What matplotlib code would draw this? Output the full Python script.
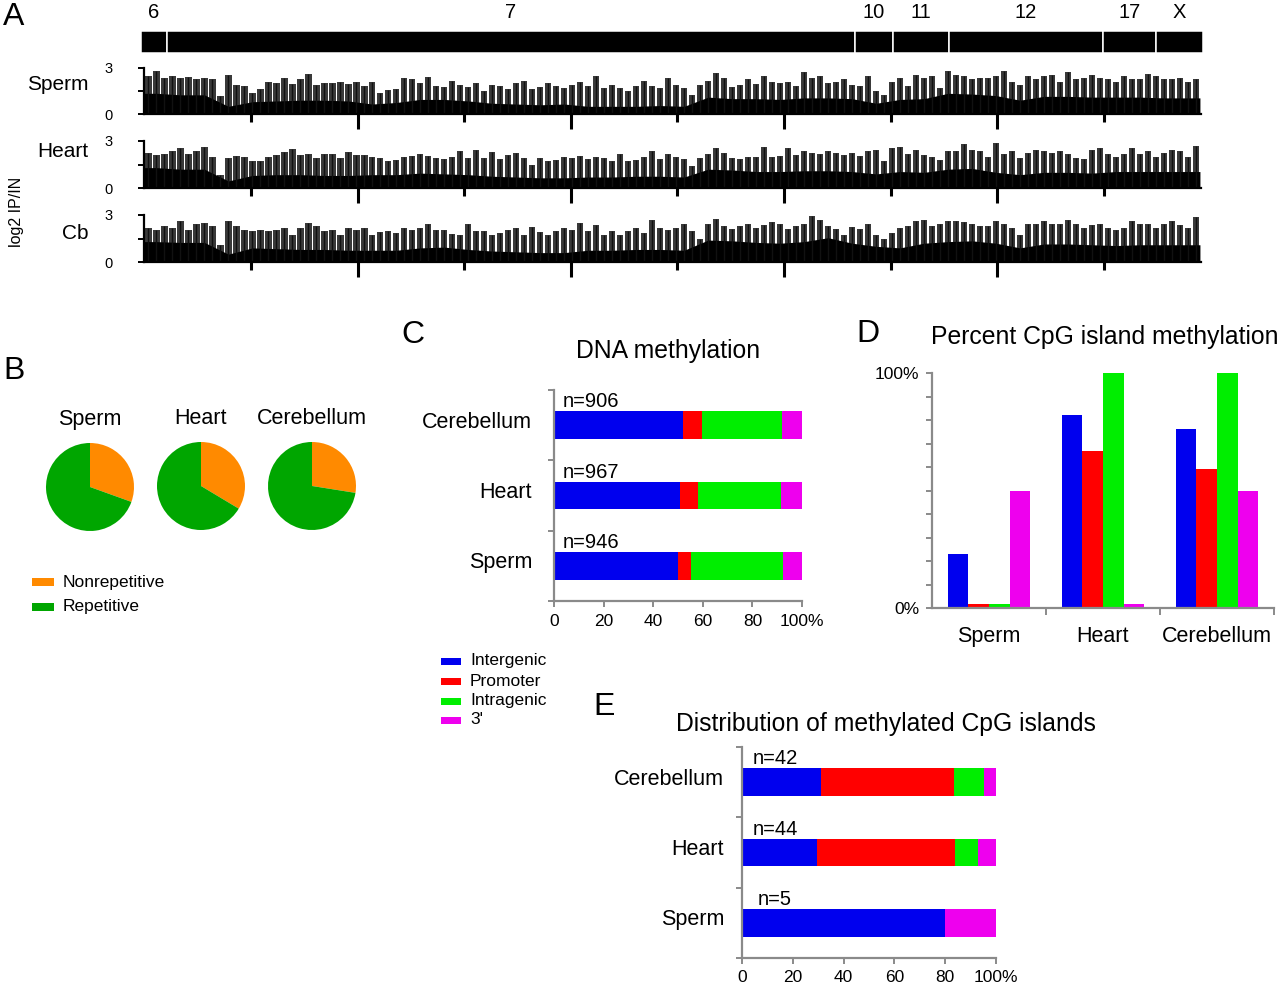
import matplotlib
matplotlib.use('Agg')
import matplotlib.pyplot as plt
import numpy as np
from matplotlib.patches import Rectangle

plt.rcParams['font.family'] = ['Liberation Sans', 'DejaVu Sans']

# ---------------- data ----------------
chrom_names = ['6', '7', '10', '11', '12', '17', 'X']
chrom_edges = [-0.6, 4.2, 133.3, 140.4, 150.9, 179.8, 189.8, 198.6]   # Mb-like genome units
genome_len = 198.0
track_names = ['Sperm', 'Heart', 'Cb']
track_major_ticks = [40, 80, 120, 160]
track_minor_ticks = [20, 60, 100, 140, 180]

sperm_peak = [2.45, 2.8, 2.35, 2.5, 2.35, 2.4, 2.3, 2.35, 2.25, 1.15, 2.55, 1.9, 1.8, 1.35, 1.6, 2.1, 2.0, 2.35, 1.95, 2.25, 2.6, 1.9, 2.05, 2.0, 2.1, 1.95,
              2.1, 1.85, 2.1, 1.4, 1.55, 1.6, 2.35, 2.25, 2.05, 2.4, 1.85, 1.75, 2.15, 1.9, 1.75, 2.0, 1.5, 1.9, 1.8, 1.6, 2.05, 2.15, 1.6, 1.75, 2.0, 1.8, 1.7,
              1.9, 2.1, 1.8, 2.45, 1.7, 1.9, 1.7, 1.5, 1.8, 2.15, 1.8, 1.7, 2.35, 1.9, 1.7, 1.25, 1.9, 2.15, 2.65, 2.35, 1.75, 1.9, 2.25, 1.95, 2.45, 2.1,
              2.0, 2.1, 1.8, 2.75, 2.35, 2.45, 2.0, 2.1, 2.25, 1.9, 1.8, 2.45, 1.5, 1.25, 2.1, 2.35, 1.8, 2.55, 2.35, 2.45, 1.7, 2.8, 2.55, 2.45, 2.25, 2.35,
              2.35, 2.45, 2.8, 2.1, 1.9, 2.45, 2.25, 2.45, 2.55, 2.1, 2.75, 2.25, 2.35, 2.55, 2.35, 2.25, 2.1, 2.45, 2.25, 2.25, 2.6, 2.45, 2.25, 2.25, 2.35, 2.1, 2.25]
heart_peak = [2.25, 2.1, 2.15, 2.35, 2.55, 2.15, 2.35, 2.6, 2.0, 0.85, 1.9, 2.05, 2.0, 1.75, 1.7, 1.95, 2.1, 2.3, 2.5, 2.1, 2.2, 1.9, 2.15, 2.2, 1.9, 2.3,
              2.1, 2.1, 2.0, 1.9, 1.7, 1.8, 1.95, 2.05, 2.15, 2.05, 1.9, 1.85, 2.0, 2.35, 1.9, 2.45, 1.9, 2.3, 1.85, 2.1, 2.25, 1.9, 1.5, 1.9, 1.7, 1.8, 1.95,
              1.9, 2.05, 1.85, 2.0, 1.9, 1.75, 2.2, 1.7, 1.8, 1.95, 2.35, 1.85, 2.15, 1.95, 1.85, 1.4, 1.9, 2.2, 2.55, 2.25, 1.9, 1.85, 1.95, 2.0, 2.6, 1.95,
              2.05, 2.55, 2.1, 2.35, 2.25, 2.15, 2.35, 2.25, 2.1, 2.25, 2.05, 2.35, 2.45, 1.7, 2.55, 2.6, 2.2, 2.45, 2.1, 1.95, 1.8, 2.35, 2.35, 2.8, 2.4, 2.35,
              2.0, 2.9, 2.15, 2.35, 1.9, 2.25, 2.45, 2.35, 2.25, 2.35, 2.15, 1.9, 1.85, 2.45, 2.55, 2.15, 2.0, 2.15, 2.55, 2.15, 2.35, 2.0, 2.25, 2.45, 2.35, 2.0, 2.65]
cb_peak = [2.15, 2.05, 2.3, 2.15, 2.6, 2.05, 2.4, 2.5, 2.3, 1.1, 2.6, 2.3, 2.05, 1.95, 2.05, 1.95, 2.05, 2.15, 1.75, 2.15, 2.5, 2.3, 1.95, 2.05, 1.75, 2.2,
           2.05, 2.15, 1.75, 1.9, 2.0, 1.85, 2.15, 2.05, 2.15, 2.4, 2.05, 2.05, 1.8, 1.7, 2.45, 2.0, 1.95, 1.75, 1.85, 2.05, 2.15, 1.75, 2.25, 1.9, 1.75, 2.0, 2.15,
           2.05, 2.5, 1.95, 2.35, 1.75, 1.95, 1.75, 1.95, 2.15, 1.85, 2.65, 2.15, 2.05, 2.15, 2.4, 1.95, 1.5, 2.4, 2.75, 2.3, 2.1, 2.3, 2.4, 2.2, 2.35, 2.55,
           2.4, 2.1, 2.3, 2.4, 2.95, 2.7, 2.3, 2.1, 1.75, 2.25, 2.1, 2.4, 1.75, 1.45, 1.85, 2.15, 2.3, 2.6, 2.65, 2.3, 2.4, 2.6, 2.6, 2.55, 2.4, 2.3,
           2.3, 2.6, 2.4, 2.2, 1.75, 2.4, 2.45, 2.6, 2.4, 2.45, 2.7, 2.4, 2.2, 2.35, 2.45, 2.2, 2.05, 2.2, 2.6, 2.4, 2.45, 2.2, 2.45, 2.6, 2.35, 2.2, 2.9]

sperm_level = [1.35, 1.25, 1.25, 0.5, 0.8, 0.85, 0.9, 0.9, 0.85,
               0.65, 0.75, 0.95, 0.95, 0.85, 0.7, 0.65, 0.6, 0.65,
               0.5, 0.5, 0.5, 0.55, 0.5, 1.1, 1.0, 1.0, 0.95,
               1.05, 1.05, 1.0, 0.7, 0.95, 1.0, 1.35, 1.3,
               1.2, 0.9, 1.15, 1.15, 1.1, 1.1, 1.1, 1.05, 1.05]
heart_level = [1.3, 1.2, 1.2, 0.45, 0.8, 0.85, 0.85, 0.8, 0.8,
               0.85, 0.85, 0.95, 0.9, 0.85, 0.75, 0.7, 0.65, 0.65,
               0.7, 0.7, 0.75, 0.75, 0.7, 1.2, 1.15, 1.05, 1.05,
               1.1, 1.1, 1.05, 0.9, 1.05, 1.0, 1.2, 1.25,
               1.0, 0.85, 1.0, 1.0, 0.95, 1.05, 1.05, 1.05, 1.05]
cb_level = [1.3, 1.25, 1.25, 0.5, 0.9, 0.85, 0.8, 0.8, 0.75,
            0.75, 0.75, 0.9, 0.95, 0.8, 0.7, 0.65, 0.6, 0.6,
            0.75, 0.75, 0.8, 0.8, 0.75, 1.4, 1.35, 1.25, 1.2,
            1.3, 1.55, 1.2, 1.0, 0.9, 1.2, 1.3, 1.35,
            1.2, 0.9, 1.15, 1.15, 1.1, 1.05, 1.1, 1.1, 1.1]

pie_names = ['Sperm', 'Heart', 'Cerebellum']
pie_nonrepetitive = [30.5, 33.6, 27.5]
pie_repetitive = [69.5, 66.4, 72.5]

region_names = ['Intergenic', 'Promoter', 'Intragenic', "3'"]
tissues = ['Sperm', 'Heart', 'Cerebellum']

c_n = [946, 967, 906]
c_intergenic = [50.1, 51.0, 52.1]
c_promoter = [5.1, 6.9, 7.4]
c_intragenic = [37.3, 33.8, 32.6]
c_three = [7.5, 8.3, 7.9]

d_intergenic = [23, 82, 76]
d_promoter = [1.5, 67, 59]
d_intragenic = [1.5, 100, 100]
d_three = [50, 1.5, 50]

e_n = [5, 44, 42]
e_intergenic = [80.0, 29.5, 31.0]
e_promoter = [0.0, 54.5, 52.4]
e_intragenic = [0.0, 9.1, 11.9]
e_three = [20.0, 6.9, 4.7]

# ---------------- style ----------------
region_colors = ['#0000EE', '#FF0000', '#00EE00', '#EE00EE']
pie_colors = ['#FF8A00', '#00A600']
axis_gray = '#8a8a8a'
TITLE_FS = 17.8

W, H = 1280, 986
fig = plt.figure(figsize=(W / 100, H / 100), dpi=100)


def px_axes(x0, y0, x1, y1):
    return fig.add_axes([x0 / W, 1 - y1 / H, (x1 - x0) / W, (y1 - y0) / H])


def ftext(x, y, s, **kw):
    kw.setdefault('ha', 'center')
    kw.setdefault('va', 'center')
    fig.text(x / W, 1 - y / H, s, **kw)


# panel letters
for letter, (x, y) in zip('ABCDE', [(14, 17), (14, 371), (413, 335), (868, 334), (604, 707)]):
    ftext(x, y, letter, fontsize=23)

# ---------------- panel A ----------------
axc = px_axes(141, 31, 1203, 53)
for name, s, e in zip(chrom_names, chrom_edges[:-1], chrom_edges[1:]):
    axc.barh(0, e - s, left=s, height=1, color='black', edgecolor='white', linewidth=1.1)
    axc.annotate(name, xy=((s + e) / 2, 1), xycoords=('data', 'axes fraction'),
                 xytext=(0, 18), textcoords='offset pixels', ha='center', va='center', fontsize=14.5)
axc.set_xlim(chrom_edges[0], chrom_edges[-1])
axc.set_ylim(-0.5, 0.5)
axc.axis('off')

track_px = [(68, 114), (141, 188), (215, 262)]
track_label_dy = [1.9, 2.3, 1.8]
for name, peaks, levels, (top, bot), ly_lab in zip(track_names, [sperm_peak, heart_peak, cb_peak],
                                                     [sperm_level, heart_level, cb_level], track_px,
                                                     track_label_dy):
    ax = px_axes(144.4, top, 1201, bot)
    pb = genome_len / len(peaks)
    xs = (np.arange(len(peaks)) + 0.5) * pb
    ax.bar(xs, peaks, width=pb * 0.8, color='#3a3a3a', lw=0)
    ax.vlines(xs, 0, peaks, color='#111111', lw=1.0)
    lb = genome_len / len(levels)
    lx = np.concatenate([[0], (np.arange(len(levels)) + 0.5) * lb, [genome_len]])
    ly = np.concatenate([[levels[0]], levels, [levels[-1]]])
    ax.fill_between(lx, 0, ly, color='black', lw=0)
    ax.set_xlim(0, genome_len + 0.2)
    ax.set_ylim(0, 3)
    for sp in ['top', 'right']:
        ax.spines[sp].set_visible(False)
    for sp in ['left', 'bottom']:
        ax.spines[sp].set_linewidth(1.6)
    ax.set_yticks([0, 1.5, 3])
    ax.set_yticklabels(['0', '', '3'], fontsize=10.5)
    ax.tick_params(axis='y', length=4, width=1.4, pad=19)
    ax.set_xticks(track_major_ticks)
    ax.set_xticks(track_minor_ticks, minor=True)
    ax.tick_params(axis='x', which='major', length=11, width=2.2, labelbottom=False)
    ax.tick_params(axis='x', which='minor', length=5.5, width=2.2, labelbottom=False)
    ax.annotate(name, xy=(0, ly_lab), xycoords=('axes fraction', 'data'), xytext=(-56, 0),
                textcoords='offset pixels', ha='right', va='center', fontsize=15)

ftext(16, 212, 'log2 IP/IN', rotation=90, fontsize=11.5)

# ---------------- panel B ----------------
pie_centers = [(90, 487), (201, 486), (312, 486)]
for name, nr, rp, (cx, cy) in zip(pie_names, pie_nonrepetitive, pie_repetitive, pie_centers):
    ax = px_axes(cx - 44, cy - 44, cx + 44, cy + 44)
    ax.pie([nr, rp], colors=pie_colors, startangle=90, counterclock=False, radius=1,
           wedgeprops=dict(linewidth=0))
    ax.set_xlim(-1, 1)
    ax.set_ylim(-1, 1)
    ax.annotate(name, xy=(0.5, 1.0), xycoords='axes fraction', xytext=(0, 24),
                textcoords='offset pixels', ha='center', va='center', fontsize=15.5)

for lab, col, y in zip(['Nonrepetitive', 'Repetitive'], pie_colors, [582, 607]):
    fig.add_artist(Rectangle((32 / W, 1 - (y + 4) / H), 22 / W, 8 / H, transform=fig.transFigure,
                             color=col, lw=0))
    ftext(63, y, lab, ha='left', fontsize=12.5)


# ---------------- stacked horizontal bars (C and E) ----------------
def stacked_panel(rect, n, parts, label_dx, n_dx):
    ax = px_axes(*rect)
    ypos = np.arange(len(tissues))
    left = np.zeros(len(tissues))
    for vals, col in zip(parts, region_colors):
        ax.barh(ypos, vals, left=left, height=0.39, color=col, lw=0)
        left += np.array(vals)
    ax.set_xlim(0, 100)
    ax.set_ylim(-0.5, len(tissues) - 0.5)
    for sp in ['top', 'right']:
        ax.spines[sp].set_visible(False)
    for sp in ['left', 'bottom']:
        ax.spines[sp].set_color(axis_gray)
        ax.spines[sp].set_linewidth(1.6)
    ax.set_xticks([0, 20, 40, 60, 80, 100])
    ax.set_xticklabels(['0', '20', '40', '60', '80', '100%'], fontsize=12.5)
    ax.set_yticks(np.arange(len(tissues) + 1) - 0.5)
    ax.set_yticklabels([])
    ax.tick_params(length=4, width=1.4, color=axis_gray, pad=5)
    for i, (t, nn) in enumerate(zip(tissues, n)):
        ax.annotate(t, xy=(0, i), xycoords=('axes fraction', 'data'), xytext=(label_dx, 3),
                    textcoords='offset pixels', ha='right', va='center', fontsize=15.5)
        ax.annotate(f'n={nn}', xy=(0, i + 0.195), xycoords='data', xytext=(n_dx, 4),
                    textcoords='offset pixels', ha='center', va='baseline', fontsize=14.5)
    return ax


stacked_panel((554, 390, 802, 601), c_n, [c_intergenic, c_promoter, c_intragenic, c_three], -22, 37)
ftext(668, 351, 'DNA methylation', fontsize=TITLE_FS)

for lab, col, y in zip(region_names, region_colors, [661, 681, 701, 720]):
    fig.add_artist(Rectangle((441 / W, 1 - (y + 3.5) / H), 20 / W, 7 / H, transform=fig.transFigure,
                             color=col, lw=0))
    ftext(470, y, lab, ha='left', fontsize=12.5)

stacked_panel((742, 747, 996, 958), e_n, [e_intergenic, e_promoter, e_intragenic, e_three], -18, 33)
ftext(886, 724, 'Distribution of methylated CpG islands', fontsize=TITLE_FS)

# ---------------- panel D ----------------
axd = px_axes(932, 373, 1274, 608)
bw = 0.18
xc = np.arange(len(tissues)) + 0.5
for k, (vals, col) in enumerate(zip([d_intergenic, d_promoter, d_intragenic, d_three], region_colors)):
    axd.bar(xc + (k - 1.5) * bw, vals, width=bw, color=col, lw=0)
axd.set_xlim(0, 3)
axd.set_ylim(0, 100)
for sp in ['top', 'right']:
    axd.spines[sp].set_visible(False)
for sp in ['left', 'bottom']:
    axd.spines[sp].set_color(axis_gray)
    axd.spines[sp].set_linewidth(1.6)
axd.set_yticks(np.arange(0, 101, 10))
axd.set_yticklabels(['0%'] + [''] * 9 + ['100%'], fontsize=12.5)
axd.tick_params(axis='y', length=4, width=1.4, color=axis_gray, pad=5)
axd.set_xticks([1, 2, 3])
axd.set_xticklabels([])
axd.tick_params(axis='x', which='major', length=5, width=1.4, color=axis_gray)
axd.set_xticks(xc, minor=True)
axd.set_xticklabels(tissues, minor=True, fontsize=15.5)
axd.tick_params(axis='x', which='minor', length=0, pad=13)
ftext(1105, 337, 'Percent CpG island methylation', fontsize=TITLE_FS)

fig.savefig('out.png', dpi=100)
